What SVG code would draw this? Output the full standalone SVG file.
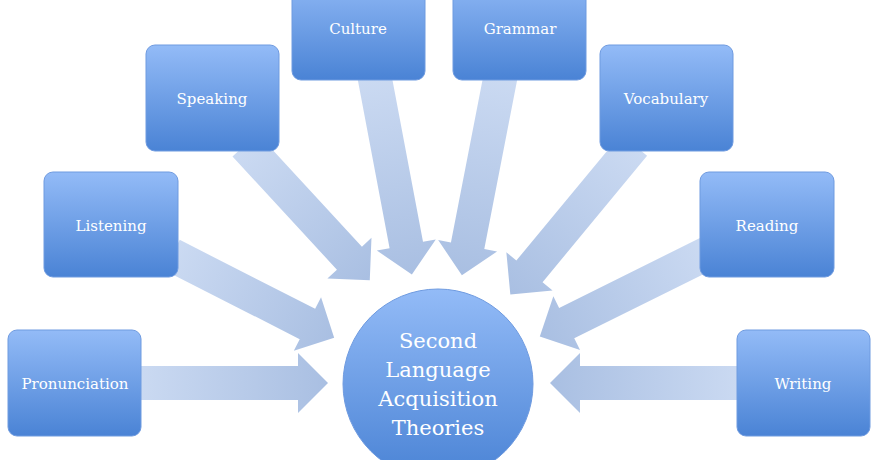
<svg xmlns="http://www.w3.org/2000/svg" width="878" height="460" viewBox="0 0 878 460">
<defs>
<linearGradient id="bx" x1="0" y1="0" x2="0" y2="1"><stop offset="0" stop-color="#93bbf7"/><stop offset="1" stop-color="#4a83d5"/></linearGradient>
<linearGradient id="ar" x1="0" y1="0" x2="1" y2="0"><stop offset="0" stop-color="#cbdaf2"/><stop offset="1" stop-color="#a9bfe2"/></linearGradient>
<style>
.box{fill:url(#bx);stroke:#6f9be0;stroke-width:1}
.ar{fill:url(#ar)}
.t{font-family:"DejaVu Serif",serif;fill:#fff;font-size:15px;text-anchor:middle}
.c{font-size:21px}
</style>
</defs>
<rect width="878" height="460" fill="#fff"/>
<g id="connectors">
<polygon class="ar" transform="translate(135,383)" points="0,-17 163,-17 163,-30 193,0 163,30 163,17 0,17"/>
<polygon class="ar" transform="translate(172,255) rotate(27)" points="0,-17 152,-17 152,-30 182,0 152,30 152,17 0,17"/>
<polygon class="ar" transform="translate(245,145) rotate(47.3)" points="0,-17 154,-17 154,-30 184,0 154,30 154,17 0,17"/>
<polygon class="ar" transform="translate(374,74) rotate(79.3)" points="0,-17 174,-17 174,-30 204,0 174,30 174,17 0,17"/>
<polygon class="ar" transform="translate(501,74) rotate(101)" points="0,-17 175,-17 175,-30 205,0 175,30 175,17 0,17"/>
<polygon class="ar" transform="translate(634,145) rotate(129.6)" points="0,-17 164,-17 164,-30 194,0 164,30 164,17 0,17"/>
<polygon class="ar" transform="translate(710,252) rotate(153.6)" points="0,-17 160,-17 160,-30 190,0 160,30 160,17 0,17"/>
<polygon class="ar" transform="translate(743,383) rotate(180)" points="0,-17 163,-17 163,-30 193,0 163,30 163,17 0,17"/>
</g>
<g id="center"><circle cx="438" cy="384" r="95" fill="url(#bx)" stroke="#6f9be0"/>
<text class="t c" x="438" y="348">Second</text><text class="t c" x="438" y="377">Language</text><text class="t c" x="438" y="406">Acquisition</text><text class="t c" x="438" y="435">Theories</text></g>
<g id="pronunciation"><rect class="box" x="8" y="330" width="133" height="106" rx="9"/><text class="t" x="75" y="389">Pronunciation</text></g>
<g id="listening"><rect class="box" x="44" y="172" width="134" height="105" rx="9"/><text class="t" x="111" y="231">Listening</text></g>
<g id="speaking"><rect class="box" x="146" y="45" width="133" height="106" rx="9"/><text class="t" x="212" y="104">Speaking</text></g>
<g id="culture"><rect class="box" x="292" y="-26" width="133" height="106" rx="9"/><text class="t" x="358" y="34">Culture</text></g>
<g id="grammar"><rect class="box" x="453" y="-26" width="133" height="106" rx="9"/><text class="t" x="520" y="34">Grammar</text></g>
<g id="vocabulary"><rect class="box" x="600" y="45" width="133" height="106" rx="9"/><text class="t" x="666" y="104">Vocabulary</text></g>
<g id="reading"><rect class="box" x="700" y="172" width="134" height="105" rx="9"/><text class="t" x="767" y="231">Reading</text></g>
<g id="writing"><rect class="box" x="737" y="330" width="133" height="106" rx="9"/><text class="t" x="803" y="389">Writing</text></g>
</svg>
